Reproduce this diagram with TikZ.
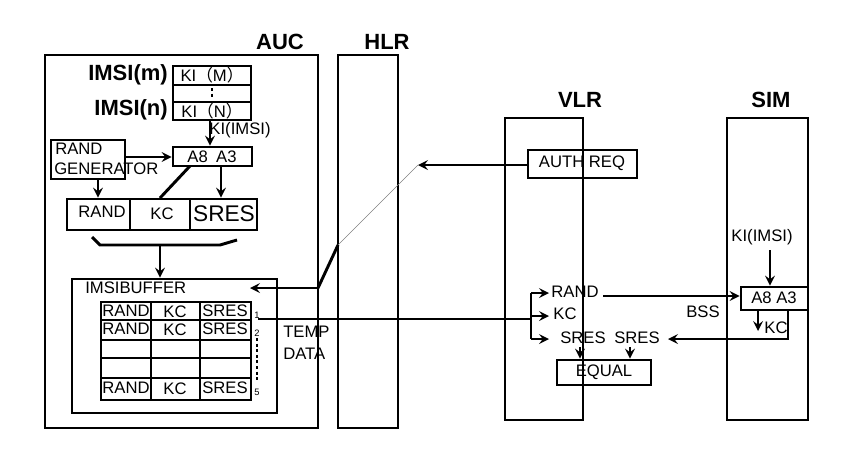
\documentclass[tikz,border=0pt]{standalone}
\usepackage{fontspec}
\setmainfont{Liberation Sans}
\newfontfamily\cjk{Noto Sans CJK SC}
\usepackage{tikz}
\usetikzlibrary{arrows,positioning,fit,calc}

\begin{document}
\begin{tikzpicture}[x=0.75pt, y=-0.75pt,
    box/.style={rectangle, draw, line width=2.2pt, inner sep=0pt},
    txt/.style={inner sep=0pt, font=\fontsize{12.5}{14}\selectfont},
    big/.style={inner sep=0pt, font=\fontsize{16.5}{18}\selectfont\bfseries},
    arrow/.style={->, line width=2.2pt, >=stealth},
    line/.style={line width=2.2pt}]
    \useasboundingbox (0,0) rectangle (862,468);

    % Columns
    \node[box, fit={(45,55)(318,428)}] (auc) {};
    \node[box, fit={(338,55)(398,428)}] (hlr) {};
    \node[box, fit={(505,118)(583,420)}] (vlr) {};
    \node[box, fit={(727,118)(808,420)}] (sim) {};
    \node[big] (auct) at (280,42) {AUC};
    \node[big] (hlrt) at (387,42) {HLR};
    \node[big] (vlrt) at (580,100) {VLR};
    \node[big] (simt) at (771,100) {SIM};

    % Key table
    \node[box, fit={(173,66)(251,120)}] (ki) {};
    \draw[line] (173,85) -- (251,85);
    \draw[line] (173,102) -- (251,102);
    \node[txt] (kim) at (212,75) {KI{\cjk （}M{\cjk ）}};
    \node[txt] (kin) at (212,111) {KI{\cjk （}N{\cjk ）}};
    \draw[line, dotted] (212,88) -- (212,99);
    \node[big, anchor=east] (imsim) at (168,75) {IMSI(m)};
    \node[big, anchor=east] (imsin) at (168,110) {IMSI(n)};

    % Algorithm
    \node[box, fit={(173,147)(252,166)}] (algo) {};
    \node[txt] (algot) at (212,157) {A8\enspace A3};
    \draw[arrow] (210,120) -- (algo.north -| 210,0);
    \node[txt] (kiimsi) at (240,130) {KI(IMSI)};

    % Rand generator
    \node[box, fit={(51,140)(125,179)}] (gen) {};
    \node[txt, anchor=west] (gent1) at (55,149) {RAND};
    \node[txt, anchor=west] (gent2) at (54,169) {GENERATOR};
    \draw[arrow] (gen.east |- 0,157) -- (algo.west |- 0,157);

    % Triplet
    \node[box, fit={(67,199)(257,230)}] (trip) {};
    \draw[line] (130,199) -- (130,230);
    \draw[line] (190,199) -- (190,230);
    \node[txt] (trand) at (102,212) {RAND};
    \node[txt] (tkc) at (162,214) {KC};
    \node[inner sep=0pt, font=\fontsize{17}{19}\selectfont] (tsres) at (224,214) {SRES};
    \draw[arrow] (98,179) -- (trip.north -| 98,0);
    \draw[line] (190,166) -- (160,198);
    \draw[arrow] (221,166) -- (trip.north -| 221,0);

    % Bracket
    \draw[line] (92,237) -- (100,245) -- (220,245) -- (237,240);
    \coordinate (brk) at (160,245);

    % IMSI buffer
    \node[box, fit={(72,279)(277,413)}] (buf) {};
    \node[txt, anchor=west] (buft) at (85,288) {IMSIBUFFER};
    \draw[arrow] (brk) -- (buf.north -| brk);
    \node[box, fit={(101,302)(251,400)}] (tab) {};
    \foreach \y in {320,340,358,378} \draw[line] (101,\y) -- (251,\y);
    \foreach \x in {151,200} \draw[line] (\x,302) -- (\x,400);
    \foreach \y/\n in {311/1,329/2,388/5} {
        \node[txt] (r\n a) at (126,\y) {RAND};
        \node[txt] (r\n b) at (175,\y+1) {KC};
        \node[txt] (r\n c) at (225,\y) {SRES};
        \node[inner sep=0pt, font=\fontsize{7}{8}\selectfont] (i\n) at (257,\y+4) {\n};
    }
    \draw[line, dotted] (257,338) -- (257,382);
    \node[txt, align=left, anchor=north west] (temp) at (283,326) {TEMP\\[2pt]DATA};

    % VLR
    \node[box, fit={(528,150)(637,178)}] (auth) {};
    \node[txt] (autht) at (582,163) {AUTH REQ};
    \coordinate (h1) at (418,165);
    \coordinate (h2) at (338,245);
    \coordinate (h3) at (318,288);
    \draw[arrow] (auth.west |- h1) -- (h1);
    \draw[gray, thin] (h1) -- (h2);
    \draw[line] (h2) -- (h3);
    \draw[arrow] (h3) -- (250,288);

    \node[txt] (vrand) at (575,292) {RAND};
    \node[txt] (vkc) at (565,314) {KC};
    \node[txt] (vsres) at (583,338) {SRES};
    \node[txt] (vsres2) at (637,338) {SRES};
    \coordinate (fork) at (531,319);
    \draw[line] (258,319) -- (fork);
    \draw[line] (531,293) -- (531,339);
    \foreach \y in {293,316,339} \draw[arrow] (531,\y) -- (549,\y);
    \node[box, fit={(557,360)(651,385)}] (equal) {};
    \node[txt] (equalt) at (604,372) {EQUAL};
    \draw[arrow] (580,347) -- (equal.north -| 580,0);
    \draw[arrow] (630,347) -- (equal.north -| 630,0);

    % SIM
    \node[box, fit={(741,287)(808,310)}] (salgo) {};
    \node[txt] (salgot) at (774,298) {A8 A3};
    \node[txt] (skiimsi) at (762,237) {KI(IMSI)};
    \draw[arrow] (770,250) -- (salgo.north -| 770,0);
    \draw[arrow] (603,296) -- (salgo.west |- 0,296);
    \node[txt] (bss) at (703,312) {BSS};
    \draw[arrow] (758,310) -- (758,331);
    \node[txt] (skc) at (776,328) {KC};
    \draw[arrow] (788,310) -- (788,339) -- (668,339);
\end{tikzpicture}
\end{document}
